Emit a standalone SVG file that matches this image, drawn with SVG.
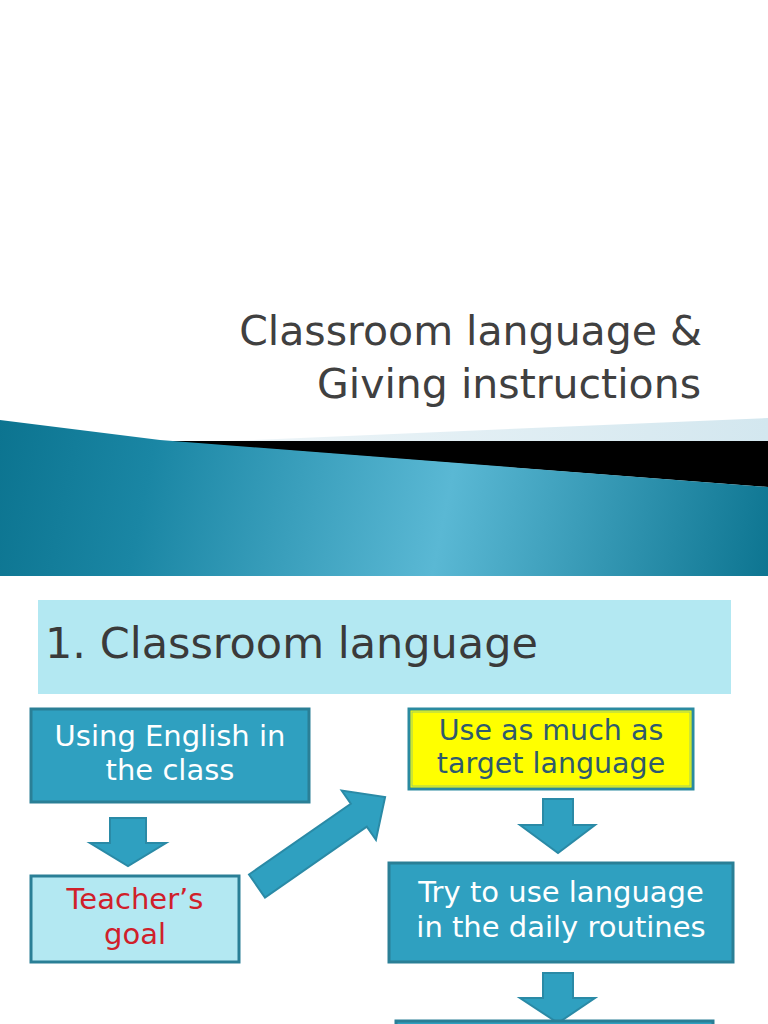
<svg xmlns="http://www.w3.org/2000/svg" width="768" height="1024" viewBox="0 0 768 1024">
<defs>
<linearGradient id="band" x1="0" y1="420" x2="768" y2="576" gradientUnits="userSpaceOnUse">
<stop offset="0" stop-color="#0c7490"/>
<stop offset="0.2" stop-color="#1a86a4"/>
<stop offset="0.58" stop-color="#5ab8d4"/>
<stop offset="1" stop-color="#0d7591"/>
</linearGradient>
<linearGradient id="pale" x1="230" y1="0" x2="768" y2="0" gradientUnits="userSpaceOnUse">
<stop offset="0" stop-color="#eef5f8"/>
<stop offset="1" stop-color="#d3e7ef"/>
</linearGradient>
<style>
.t{font-family:"DejaVu Sans","Verdana",sans-serif}
.box{fill:#2fa0c0;stroke:#2a7f96;stroke-width:3}
.lbox{fill:#b3e8f2;stroke:#2a7f96;stroke-width:3}
.arr{fill:#2fa0c0;stroke:#2a8aa6;stroke-width:2;stroke-linejoin:miter}
.w{fill:#ffffff;font-size:29px;text-anchor:middle}
</style>
</defs>
<rect x="0" y="0" width="768" height="1024" fill="#ffffff"/>
<g id="title-slide">
<polygon points="230,441 768,418 768,441" fill="url(#pale)"/>
<polygon points="160,441 768,441 768,487" fill="#000000"/>
<polygon points="0,420 160,440 768,487 768,576 0,576" fill="url(#band)"/>
<text class="t" x="702" y="345" font-size="41" fill="#404040" text-anchor="end">Classroom language &amp;</text>
<text class="t" x="701" y="398" font-size="41" fill="#404040" text-anchor="end">Giving instructions</text>
</g>
<g id="header">
<rect x="38" y="600" width="693" height="94" fill="#b3e8f2"/>
<text class="t" x="45" y="658" font-size="43" fill="#3a3a3a">1. Classroom language</text>
</g>
<g id="connectors">
<polygon class="arr" points="110,818 146,818 146,843 166,843 128,866 90,843 110,843"/>
<g transform="translate(257,886) rotate(-34.8)">
<polygon class="arr" points="0,-14 124,-14 124,-30 156,0 124,30 124,14 0,14"/>
</g>
<polygon class="arr" points="543,799 573,799 573,825 595,825 558,853 520,825 543,825"/>
<polygon class="arr" points="543,973 573,973 573,998 595,998 558,1023 520,998 543,998"/>
</g>
<g id="n1">
<rect class="box" x="31" y="709" width="278" height="93"/>
<text class="t w" x="170" y="746">Using English in</text>
<text class="t w" x="170" y="780">the class</text>
</g>
<g id="n2">
<rect class="lbox" x="31" y="876" width="208" height="86"/>
<text class="t" x="135" y="909" font-size="29" fill="#d0202a" text-anchor="middle">Teacher’s</text>
<text class="t" x="135" y="944" font-size="29" fill="#d0202a" text-anchor="middle">goal</text>
</g>
<g id="n3">
<rect x="409" y="709" width="284" height="80" fill="#ffff00" stroke="#2a8aa0" stroke-width="3"/>
<rect x="412" y="712" width="278" height="74" fill="none" stroke="#9ccc66" stroke-width="1"/>
<text class="t" x="551" y="740" font-size="28.5" fill="#2e5a6e" text-anchor="middle">Use as much as</text>
<text class="t" x="551" y="773" font-size="28.5" fill="#2e5a6e" text-anchor="middle">target language</text>
</g>
<g id="n4">
<rect class="box" x="389" y="863" width="344" height="99"/>
<text class="t w" x="561" y="902">Try to use language</text>
<text class="t w" x="561" y="937">in the daily routines</text>
</g>
<g id="n5">
<rect class="box" x="396" y="1021" width="317" height="20"/>
</g>
</svg>
